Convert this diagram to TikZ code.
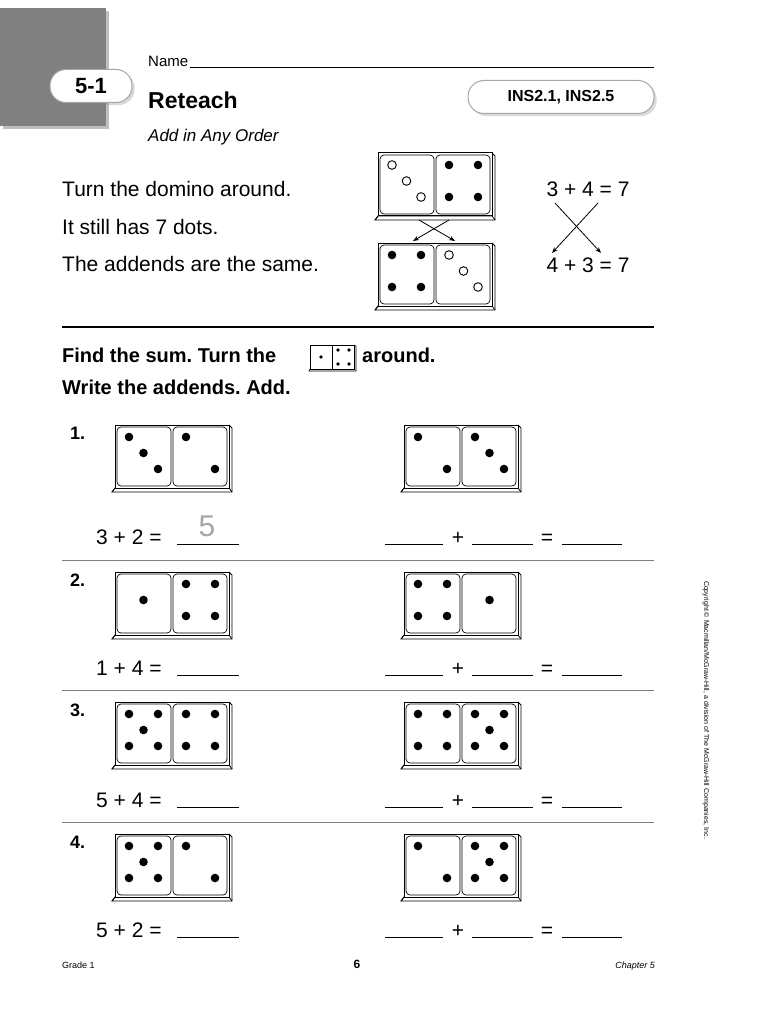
\documentclass[tikz,border=0pt]{standalone}
\usepackage{fontspec}
\setmainfont{Liberation Sans}
\usetikzlibrary{arrows.meta,shadows}
\frenchspacing
\newcommand\pipdot[3]{\fill[#3] (#1,#2) circle (4.3);}
\newcommand\opdot[3]{\draw[line width=0.9pt,fill=white] (#1,#2) circle (4.3);}
\newcommand\pipset[4]{%
 \pgfmathsetmacro\ax{#1+14}\pgfmathsetmacro\bx{#1+28.5}\pgfmathsetmacro\cx{#1+43}%
 \pgfmathsetmacro\ay{#2+12}\pgfmathsetmacro\by{#2+28}\pgfmathsetmacro\cy{#2+44}%
 \ifcase#3\or #4\bx\by{}\or #4\ax\ay{}#4\cx\cy{}\or #4\ax\ay{}#4\bx\by{}#4\cx\cy{}%
 \or #4\ax\ay{}#4\cx\ay{}#4\ax\cy{}#4\cx\cy{}%
 \or #4\ax\ay{}#4\cx\ay{}#4\ax\cy{}#4\cx\cy{}#4\bx\by{}\fi}
\newcommand\domino[6]{%
 \draw[line width=0.8pt] (#1,#2+63) -- (#1-3,#2+67) -- (#1+117,#2+67) -- (#1+117,#2+3) -- (#1+114,#2);
 \draw[line width=0.8pt] (#1-3,#2+67) -- (#1,#2+63) -- (#1+114,#2+63) -- (#1+117,#2+67);
 \draw[line width=1pt,fill=white] (#1,#2) rectangle (#1+114,#2+63);
 \draw[line width=0.7pt,rounded corners=4] (#1+2,#2+2) rectangle (#1+56,#2+61);
 \draw[line width=0.7pt,rounded corners=4] (#1+58,#2+2) rectangle (#1+112,#2+61);
 \pipset{#1}{#2}{#3}{#5}\pipset{#1+57}{#2}{#4}{#6}}
\newcommand\fd[2]{\pipdot{#1}{#2}{black}}
\newcommand\od[2]{\opdot{#1}{#2}{}}
\tikzset{txt/.style={anchor=base west,font=\fontsize{21}{24}\selectfont,inner sep=0},
 eq/.style={anchor=base,font=\fontsize{21}{24}\selectfont,inner sep=0},
 blank/.style={line width=0.8pt},
 sep/.style={line width=0.8pt,gray},
 num/.style={anchor=base west,font=\bfseries\fontsize{18}{20}\selectfont,inner sep=0}}
\begin{document}
\begin{tikzpicture}[x=1pt,y=-1pt]
\useasboundingbox (0,0) rectangle (768,1024);
\fill[gray!50] (3,11) rectangle (109,129);
\fill[gray] (0,8) rectangle (106,126);
\node[draw=gray!70,line width=1pt,fill=white,rounded corners=16,minimum width=82pt,minimum height=33pt,font=\bfseries\fontsize{22}{24}\selectfont,drop shadow={opacity=0.3}] (tab) at (91,86) {5-1};
\node[anchor=base west,inner sep=0,font=\fontsize{15}{17}\selectfont] (name) at (148,67) {Name};
\draw[line width=0.8pt] (name.base east) ++(2,0) -- (654,67);
\node[anchor=base west,inner sep=0,font=\bfseries\fontsize{23}{26}\selectfont] (ret) at (148,109) {Reteach};
\node[draw=gray!70,line width=1pt,fill=white,rounded corners=16,minimum width=186pt,minimum height=33pt,font=\bfseries\fontsize{16}{18}\selectfont,drop shadow={opacity=0.3}] (ins) at (561,97) {INS2.1, INS2.5};
\node[anchor=base west,inner sep=0,font=\itshape\fontsize{17}{19}\selectfont] (sub) at (148,142) {Add in Any Order};
\node[txt] (t1) at (62,197) {Turn the domino around.};
\node[txt] (t2) at (62,234) {It still has 7 dots.};
\node[txt] (t3) at (62,271) {The addends are the same.};
\domino{378}{153}{3}{4}{\od}{\fd}
\domino{378}{243}{4}{3}{\fd}{\od}
\coordinate (a1) at (419,220); \coordinate (a2) at (455,241);
\coordinate (b1) at (449,220); \coordinate (b2) at (413,241);
\draw[-{Stealth[length=6pt]},line width=0.8pt] (a1) -- (a2);
\draw[-{Stealth[length=6pt]},line width=0.8pt] (b1) -- (b2);
\node[eq] (e1) at (588,197) {3 + 4 = 7};
\node[eq] (e2) at (588,272) {4 + 3 = 7};
\draw[-{Stealth[length=6pt]},line width=0.8pt] (555,203) -- (601,253);
\draw[-{Stealth[length=6pt]},line width=0.8pt] (598,203) -- (552,253);
\draw[line width=2.5pt] (62,327) -- (654,327);
\node[anchor=base west,inner sep=0,font=\bfseries\fontsize{20}{22}\selectfont] (f1) at (62,362) {Find the sum. Turn the};
\node[anchor=base west,inner sep=0,font=\bfseries\fontsize{20}{22}\selectfont] (f1b) at (362,362) {around.};
\draw[line width=0.8pt] (310,345) rectangle (354,369); \draw[line width=0.8pt] (332,345) -- (332,369);
\draw[line width=0.6pt] (310,369) -- (309,371) -- (356,371) -- (356,346) -- (354,345);
\fill (321,357) circle (1.8);
\foreach \p in {(338,350),(349,350),(338,364),(349,364)} \fill \p circle (1.8);
\node[anchor=base west,inner sep=0,font=\bfseries\fontsize{20}{22}\selectfont] (f2) at (62,394) {Write the addends. Add.};
\foreach \yy/\lab in {425/1.,572/2.,702/3.,834/4.}{
  \node[num] at (70,\yy+14) {\lab};
}
\domino{115}{425}{3}{2}{\fd}{\fd}\domino{404}{425}{2}{3}{\fd}{\fd}
\domino{115}{572}{1}{4}{\fd}{\fd}\domino{404}{572}{4}{1}{\fd}{\fd}
\domino{115}{702}{5}{4}{\fd}{\fd}\domino{404}{702}{4}{5}{\fd}{\fd}
\domino{115}{834}{5}{2}{\fd}{\fd}\domino{404}{834}{2}{5}{\fd}{\fd}
\foreach \ey/\lt in {544/3 + 2 =,675/1 + 4 =,807/5 + 4 =,937/5 + 2 =}{
  \node[anchor=base west,inner sep=0,font=\fontsize{21}{24}\selectfont] at (96,\ey) {\lt};
  \draw[blank] (177,\ey) -- (239,\ey);
  \draw[blank] (385,\ey) -- (443,\ey);
  \node[eq] at (458,\ey) {+};
  \draw[blank] (472,\ey) -- (533,\ey);
  \node[eq] at (547,\ey) {=};
  \draw[blank] (562,\ey) -- (622,\ey);
}
\node[eq,text=gray!70,font=\fontsize{30}{32}\selectfont] at (207,536) {5};
\foreach \sy in {560,690,822} \draw[sep] (62,\sy) -- (654,\sy);
\node[anchor=base west,inner sep=0,font=\fontsize{9}{11}\selectfont] at (62,968) {Grade 1};
\node[anchor=base,inner sep=0,font=\bfseries\fontsize{12}{14}\selectfont] at (357,968) {6};
\node[anchor=base east,inner sep=0,font=\itshape\fontsize{9}{11}\selectfont] at (655,968) {Chapter 5};
\node[rotate=-90,inner sep=0,font=\fontsize{7}{8}\selectfont] at (706,710) {Copyright © Macmillan/McGraw-Hill, a division of The McGraw-Hill Companies, Inc.};
\end{tikzpicture}
\end{document}
